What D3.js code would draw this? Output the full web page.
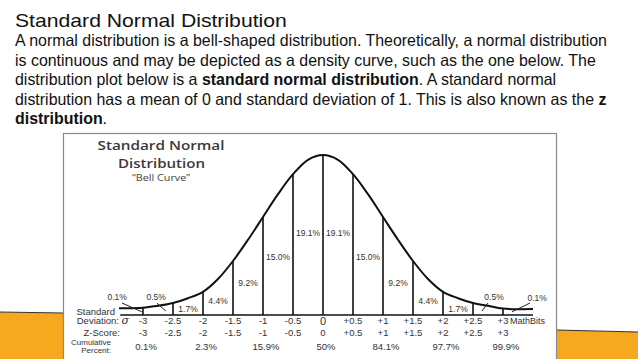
<!DOCTYPE html>
<html lang="en">
<head>
<meta charset="UTF-8">
<title>Standard Normal Distribution</title>
<script src="https://cdn.jsdelivr.net/npm/d3@7/dist/d3.min.js"></script>
<style>
    body { margin: 0; padding: 0; background: #fff; }
    svg { display: block; }
    .body-text { font-family: "Liberation Sans", Arial, sans-serif; fill: #111; }
    .lbl { font-family: "Liberation Sans", Arial, sans-serif; fill: #333; }
</style>
</head>
<body>
<svg id="chart" width="638" height="359"></svg>
<script>
// ---- data ----
const curveZ       = [-3.4, -3.0, -2.75, -2.5, -2.25, -2.0, -1.75, -1.5, -1.25, -1.0, -0.75, -0.5, -0.25, 0,
                      0.25, 0.5, 0.75, 1.0, 1.25, 1.5, 1.75, 2.0, 2.25, 2.5, 2.75, 3.0, 3.5];
const curveDensity = [0.017, 0.018, 0.023, 0.030, 0.042, 0.058, 0.090, 0.135, 0.188, 0.245, 0.302, 0.352, 0.388, 0.400,
                      0.388, 0.352, 0.302, 0.245, 0.188, 0.135, 0.090, 0.058, 0.042, 0.030, 0.023, 0.016, 0.015];

const sdTicks  = [-3, -2.5, -2, -1.5, -1, -0.5, 0, 0.5, 1, 1.5, 2, 2.5, 3];
const sdLabels = ["-3", "-2.5", "-2", "-1.5", "-1", "-0.5", "0", "+0.5", "+1", "+1.5", "+2", "+2.5", "+3"];
const zLabels  = ["-3", "-2.5", "-2", "-1.5", "-1", "-0.5", "0", "+0.5", "+1", "+1.5", "+2", "+2.5", "+3"];

const cumZ      = [-3, -2, -1, 0, 1, 2, 3];
const cumLabels = ["0.1%", "2.3%", "15.9%", "50%", "84.1%", "97.7%", "99.9%"];

// percent of area in each half-sd band, with where the label sits (z, density)
const bandLabels = ["0.1%", "0.5%", "1.7%", "4.4%", "9.2%", "15.0%", "19.1%",
                    "19.1%", "15.0%", "9.2%", "4.4%", "1.7%", "0.5%", "0.1%"];
const bandZ      = [-3.43, -2.78, -2.25, -1.75, -1.25, -0.75, -0.25,
                    0.25, 0.75, 1.25, 1.75, 2.25, 2.85, 3.57];
const bandLevel  = [0.045, 0.045, 0.015, 0.035, 0.080, 0.145, 0.205,
                    0.205, 0.145, 0.080, 0.035, 0.015, 0.045, 0.043];
// leader lines for the tail labels: [z1, d1, z2, d2]
const leaders = [[-3.35, 0.030, -3.02, 0.008], [-2.77, 0.030, -2.62, 0.010],
                 [2.75, 0.030, 2.65, 0.010], [3.45, 0.030, 3.15, 0.008]];

const paragraph = [
    [["A normal distribution is a bell-shaped distribution. Theoretically, a normal distribution", false]],
    [["is continuous and may be depicted as a density curve, such as the one below. The", false]],
    [["distribution plot below is a ", false], ["standard normal distribution", true], [". A standard normal", false]],
    [["distribution has a mean of 0 and standard deviation of 1. This is also known as the ", false], ["z", true]],
    [["distribution", true], [".", false]]
];

const svg = d3.select("#chart");

// ---- orange slide decoration ----
svg.append("path").attr("d", "M0,312 L64,313 L64,359 L0,359 Z").attr("fill", "#f6a81f");
svg.append("path").attr("d", "M0,312 L64,313").attr("stroke", "#333").attr("stroke-width", 1);
svg.append("path").attr("d", "M556,330 L638,332 L638,359 L556,359 Z").attr("fill", "#f6a81f");
svg.append("path").attr("d", "M556,330 L638,332").attr("stroke", "#333").attr("stroke-width", 1);

// ---- heading + paragraph ----
const title = svg.append("text").attr("class", "body-text")
    .attr("x", 15).attr("y", 27).attr("font-size", 19)
    .text("Standard Normal Distribution");
const tw = title.node().getComputedTextLength();
title.attr("transform", `translate(15,0) scale(${272 / tw},1) translate(-15,0)`);

const lines = paragraph.map((parts, i) => {
    const t = svg.append("text").attr("class", "body-text")
        .attr("x", 15).attr("y", 46 + i * 19.6).attr("font-size", 16.5);
    parts.forEach(p => t.append("tspan").attr("font-weight", p[1] ? "bold" : null).text(p[0]));
    return t;
});
const pw = lines[0].node().getComputedTextLength();
lines.forEach(t => t.attr("transform", `translate(15,0) scale(${592 / pw},1) translate(-15,0)`));

// ---- picture frame ----
svg.append("rect").attr("x", 63.5).attr("y", 133.5).attr("width", 493).attr("height", 240)
    .attr("fill", "#fff").attr("stroke", "#8a8a8a").attr("stroke-width", 1.2);

// ---- scales ----
const x = d3.scaleLinear().domain([-3, 3]).range([143, 503]);
const y = d3.scaleLinear().domain([0, 0.4]).range([315, 155]);

const g = svg.append("g");

const headFont = "'Open Sans', 'DejaVu Sans', sans-serif";
g.append("text").attr("x", 161).attr("y", 150).attr("text-anchor", "middle")
    .attr("font-family", headFont).attr("font-size", 13).attr("font-weight", 600)
    .attr("fill", "#3a3a3a").attr("textLength", 127).attr("lengthAdjust", "spacingAndGlyphs")
    .text("Standard Normal");
g.append("text").attr("x", 161.5).attr("y", 168).attr("text-anchor", "middle")
    .attr("font-family", headFont).attr("font-size", 13).attr("font-weight", 600)
    .attr("fill", "#3a3a3a").attr("textLength", 87).attr("lengthAdjust", "spacingAndGlyphs")
    .text("Distribution");
g.append("text").attr("x", 161).attr("y", 181).attr("text-anchor", "middle")
    .attr("font-family", headFont).attr("font-size", 9)
    .attr("fill", "#444").attr("textLength", 58).attr("lengthAdjust", "spacingAndGlyphs")
    .text("\u201CBell Curve\u201D");

// baseline
g.append("line").attr("x1", x(-3.38)).attr("x2", x(3.5)).attr("y1", y(0)).attr("y2", y(0))
    .attr("stroke", "#111").attr("stroke-width", 1.6);

// vertical band separators up to the curve
const curvePts = curveZ.map((z, i) => [z, curveDensity[i]]);
g.selectAll("line.sep").data(curvePts.filter(p => sdTicks.includes(p[0])))
    .join("line").attr("class", "sep")
    .attr("x1", d => x(d[0])).attr("x2", d => x(d[0]))
    .attr("y1", y(0)).attr("y2", d => y(d[1]))
    .attr("stroke", "#111").attr("stroke-width", 1.6);

// bell curve
g.append("path").datum(curvePts)
    .attr("d", d3.line().x(d => x(d[0])).y(d => y(d[1])).curve(d3.curveCatmullRom.alpha(0.5)))
    .attr("fill", "none").attr("stroke", "#111").attr("stroke-width", 2);

// leader lines
g.selectAll("line.lead").data(leaders).join("line").attr("class", "lead")
    .attr("x1", d => x(d[0])).attr("y1", d => y(d[1]))
    .attr("x2", d => x(d[2])).attr("y2", d => y(d[3]))
    .attr("stroke", "#222").attr("stroke-width", 1);

// band percentages
g.selectAll("text.band").data(bandLabels).join("text").attr("class", "lbl band")
    .attr("x", (d, i) => x(bandZ[i])).attr("y", (d, i) => y(bandLevel[i]))
    .attr("dy", "0.35em").attr("text-anchor", "middle").attr("font-size", 8.5)
    .text(d => d);

// row titles
const rowT = g.append("g").attr("class", "lbl").attr("text-anchor", "end").attr("font-size", 9.5);
rowT.append("text").attr("x", 115).attr("y", 314.5).text("Standard");
rowT.append("text").attr("x", 119).attr("y", 324).text("Deviation:");
rowT.append("text").attr("x", 129).attr("y", 324).attr("font-family", "'DejaVu Serif', serif")
    .attr("font-style", "italic").attr("font-size", 11).text("\u03C3");
rowT.append("text").attr("x", 120).attr("y", 335.5).text("Z-Score:");
rowT.append("text").attr("x", 111).attr("y", 344.5).attr("font-size", 8).text("Cumulative");
rowT.append("text").attr("x", 111).attr("y", 353).attr("font-size", 8).text("Percent:");

// tick rows
g.selectAll("text.sd").data(sdLabels).join("text").attr("class", "lbl sd")
    .attr("x", (d, i) => x(sdTicks[i])).attr("y", (d, i) => sdTicks[i] === 0 ? 324.5 : 323.5)
    .attr("text-anchor", "middle").attr("font-size", (d, i) => sdTicks[i] === 0 ? 11 : 9.5)
    .text(d => d);
g.append("text").attr("class", "lbl").attr("x", x(3) + 7).attr("y", 323.5).attr("font-size", 9)
    .text("MathBits");

g.selectAll("text.zs").data(zLabels).join("text").attr("class", "lbl zs")
    .attr("x", (d, i) => x(sdTicks[i])).attr("y", 335.5)
    .attr("text-anchor", "middle").attr("font-size", 9.5)
    .text(d => d);

g.selectAll("text.cum").data(cumLabels).join("text").attr("class", "lbl cum")
    .attr("x", (d, i) => x(cumZ[i]) + 3).attr("y", 350)
    .attr("text-anchor", "middle").attr("font-size", 9.5)
    .text(d => d);
</script>
</body>
</html>
